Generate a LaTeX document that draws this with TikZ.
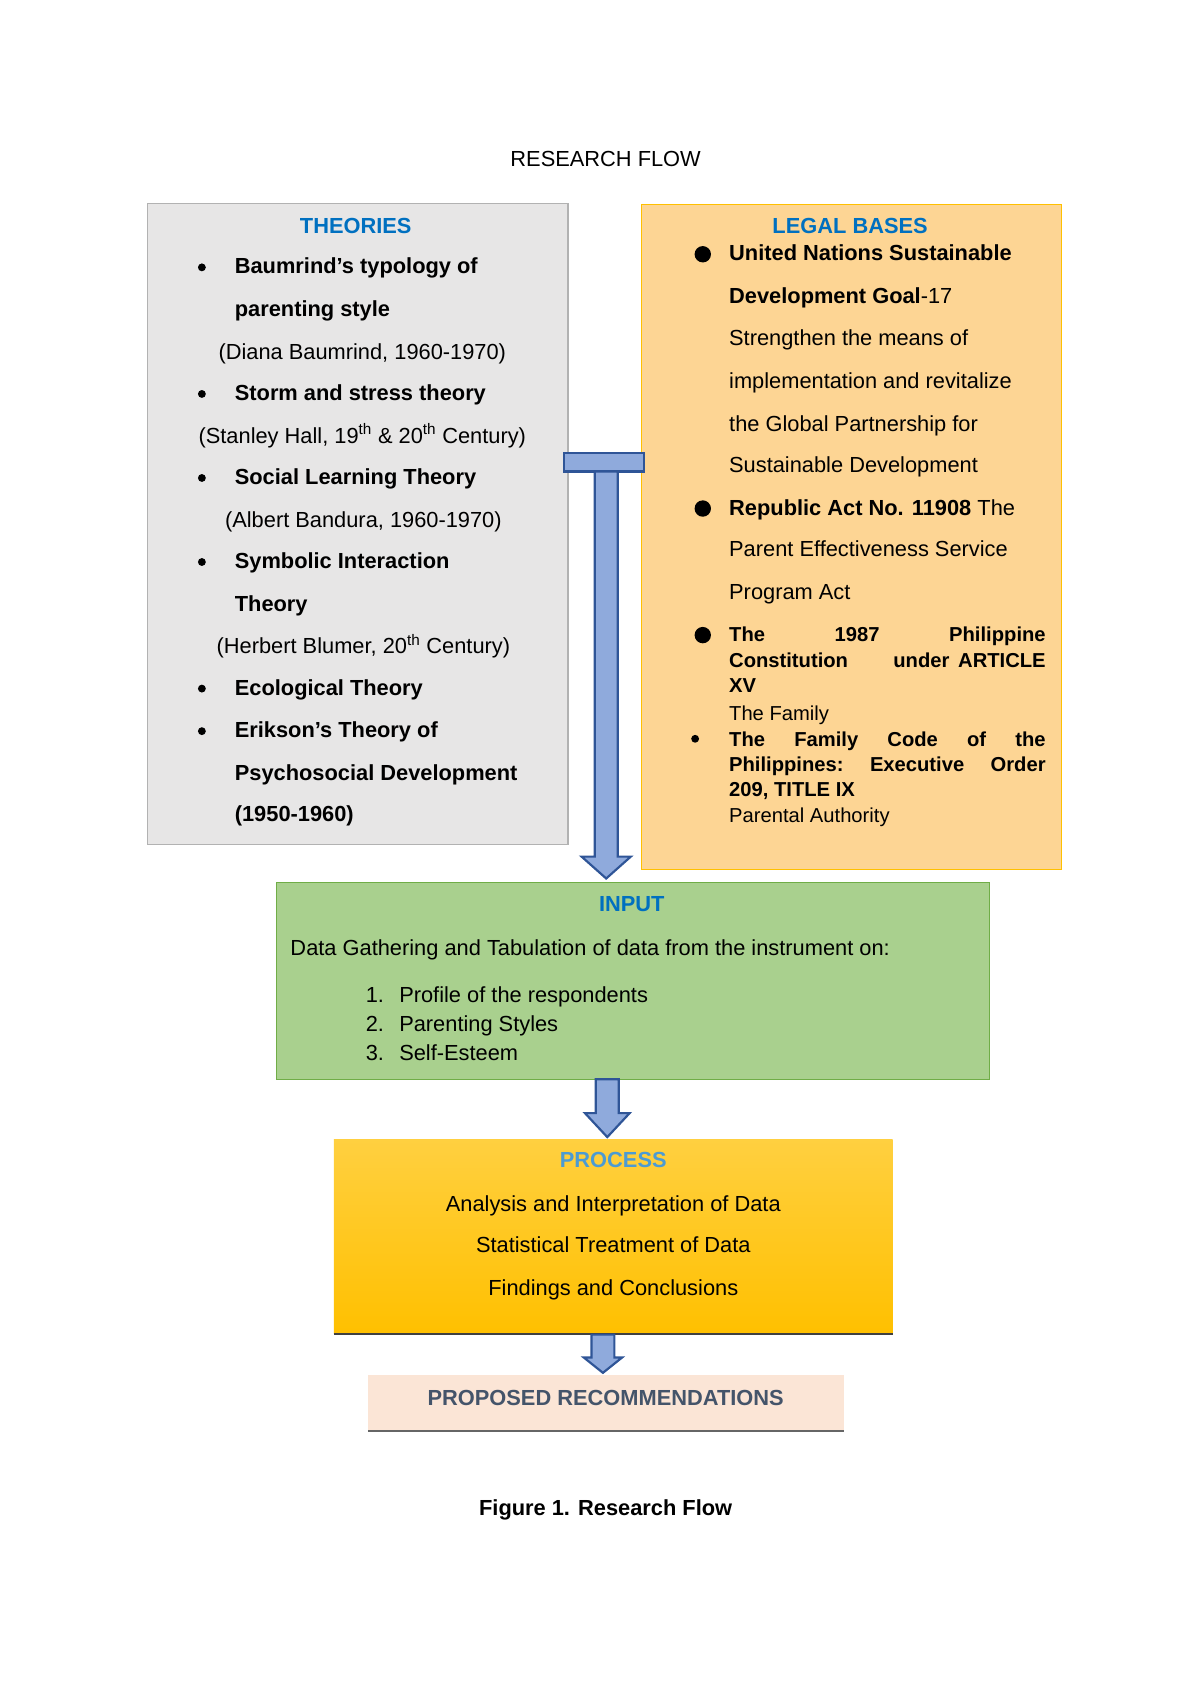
\documentclass[tikz,border=0pt]{standalone}
\usepackage{fontspec}
\setmainfont{Liberation Sans}
\definecolor{hblue}{HTML}{0070C0}
\definecolor{tgray}{HTML}{E7E6E6}
\definecolor{lorange}{HTML}{FDD594}
\definecolor{lgold}{HTML}{FFC000}
\definecolor{igreen}{HTML}{A9D08E}
\definecolor{igreenb}{HTML}{70AD47}
\definecolor{aro}{HTML}{8FAADC}
\definecolor{arob}{HTML}{2F5597}
\definecolor{recf}{HTML}{FBE5D6}
\definecolor{rect}{HTML}{44546A}
\begin{document}
\begin{tikzpicture}[x=1pt,y=-1pt,
  t/.style={anchor=base west,inner sep=0pt,font=\fontsize{20}{24}\selectfont},
  c/.style={anchor=base,inner sep=0pt,font=\fontsize{20}{24}\selectfont},
  b/.style={t,font=\fontsize{20}{24}\selectfont\bfseries},
  s/.style={t,font=\fontsize{18.5}{22}\selectfont},
  sb/.style={t,font=\fontsize{18.5}{22}\selectfont\bfseries},
  hd/.style={c,font=\fontsize{20}{24}\selectfont\bfseries,text=hblue},
  blockarrow/.style={fill=aro,draw=arob,line width=2pt,line join=miter}]
\useasboundingbox (0,0) rectangle (1100,1556);
\node[c] (title) at (555,153) {RESEARCH FLOW};
% theories
\node[draw=black!30,fill=tgray,line width=1pt,minimum width=385pt,minimum height=587pt,anchor=north west,inner sep=0pt] (theo) at (135,186) {};
\node[hd] (th) at (326,214) {THEORIES};
\foreach \y/\n in {251/a,367/b,444/c,521/d,637/e,676/f}{\fill (185,\y-6) circle (3.6pt);}
\node[b] (t1) at (215,251) {Baumrind’s typology of};
\node[b] (t2) at (215,290) {parenting style};
\node[c] (t3) at (332,329) {(Diana Baumrind, 1960-1970)};
\node[b] (t4) at (215,367) {Storm and stress theory};
\node[c] (t5) at (332,406) {(Stanley Hall, 19\textsuperscript{th} \& 20\textsuperscript{th} Century)};
\node[b] (t6) at (215,444) {Social Learning Theory};
\node[c] (t7) at (333,483) {(Albert Bandura, 1960-1970)};
\node[b] (t8) at (215,521) {Symbolic Interaction};
\node[b] (t9) at (215,560) {Theory};
\node[c] (t10) at (333,599) {(Herbert Blumer, 20\textsuperscript{th} Century)};
\node[b] (t11) at (215,637) {Ecological Theory};
\node[b] (t12) at (215,676) {Erikson’s Theory of};
\node[b] (t13) at (215,715) {Psychosocial Development};
\node[b] (t14) at (215,753) {(1950-1960)};
% legal
\node[draw=lgold,fill=lorange,line width=1pt,minimum width=385pt,minimum height=609pt,anchor=north west,inner sep=0pt] (legal) at (587,187) {};
\node[hd] (lh) at (779,214) {LEGAL BASES};
\foreach \y in {232,465,581}{\fill (644,\y+1) circle (7.5pt);}
\fill (637,677) circle (3.6pt);
\node[b] (l1) at (668,239) {United Nations Sustainable};
\node[t] (l2) at (668,278) {\textbf{Development Goal}-17};
\node[t] (l3) at (668,317) {Strengthen the means of};
\node[t] (l4) at (668,356) {implementation and revitalize};
\node[t] (l5) at (668,395) {the Global Partnership for};
\node[t] (l6) at (668,433) {Sustainable Development};
\node[t] (l7) at (668,472) {\textbf{Republic Act No. 11908} The};
\node[t] (l8) at (668,510) {Parent Effectiveness Service};
\node[t] (l9) at (668,549) {Program Act};
\node[sb,text width=290pt] (l10) at (668,588) {The\hfill 1987\hfill Philippine};
\node[sb,text width=290pt] (l11) at (668,612) {Constitution\hfill under\hspace{8pt}ARTICLE};
\node[sb] (l12) at (668,635) {XV};
\node[s] (l13) at (668,660) {The Family};
\node[sb,text width=290pt] (l14) at (668,684) {The\hfill Family\hfill Code\hfill of\hfill the};
\node[sb,text width=290pt] (l15) at (668,707) {Philippines:\hfill Executive\hfill Order};
\node[sb] (l16) at (668,730) {209, TITLE IX};
\node[s] (l17) at (668,754) {Parental Authority};
% input
\node[draw=igreenb,fill=igreen,line width=1pt,minimum width=653pt,minimum height=181pt,anchor=north west,inner sep=0pt] (input) at (253,808) {};
\node[hd] (ih) at (579,835) {INPUT};
\node[t] (i1) at (266,876) {Data Gathering and Tabulation of data from the instrument on:};
\node[t] (i2) at (335,919) {1.\hspace{14pt}Profile of the respondents};
\node[t] (i3) at (335,945) {2.\hspace{14pt}Parenting Styles};
\node[t] (i4) at (335,972) {3.\hspace{14pt}Self-Esteem};
% process
\shade[top color=lgold!75,bottom color=lgold] (306,1044) rectangle (818,1222);
\node[minimum width=512pt,minimum height=178pt,anchor=north west,inner sep=0pt] (proc) at (306,1044) {};
\draw[line width=1.5pt,black!75] (proc.south west) -- (proc.south east);
\node[hd,text=hblue!70] (ph) at (562,1070) {PROCESS};
\node[c] (p1) at (562,1110) {Analysis and Interpretation of Data};
\node[c] (p2) at (562,1148) {Statistical Treatment of Data};
\node[c] (p3) at (562,1187) {Findings and Conclusions};
% recommendations
\node[fill=recf,minimum width=436pt,minimum height=51pt,anchor=north west,inner sep=0pt] (rec) at (337,1260) {};
\draw[line width=1.5pt,black!60] (rec.south west) -- (rec.south east);
\node[c,font=\fontsize{20}{24}\selectfont\bfseries,text=rect] (rt) at (555,1288) {PROPOSED RECOMMENDATIONS};
\node[c,font=\fontsize{20}{24}\selectfont\bfseries] (cap) at (555,1389) {Figure 1. Research Flow};
% arrows
\draw[blockarrow] (517,415) rectangle (590,432);
\draw[blockarrow] (545,432) -- (545,785) -- (533,785) -- (555.5,805) -- (578,785) -- (566,785) -- (566,432) -- cycle;
\draw[blockarrow] (546,989) -- (546,1020) -- (536,1020) -- (556.5,1042) -- (577,1020) -- (567,1020) -- (567,989) -- cycle;
\draw[blockarrow] (542,1223) -- (542,1244) -- (535,1244) -- (552.5,1258) -- (570,1244) -- (563,1244) -- (563,1223) -- cycle;
\end{tikzpicture}
\end{document}
